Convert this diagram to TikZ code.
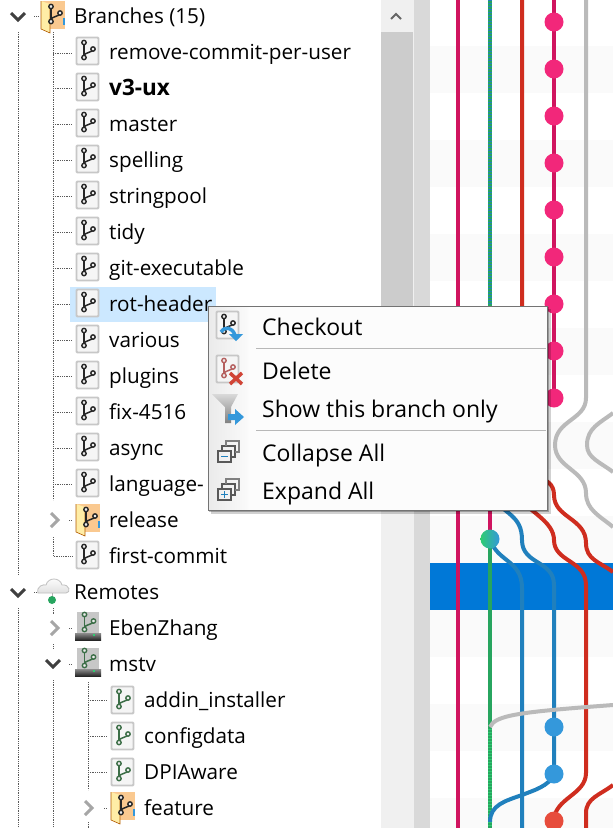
\documentclass[tikz,border=0pt]{standalone}
\usepackage{fontspec}
\setmainfont{Open Sans}
\definecolor{crimsonline}{HTML}{D0145F}
\definecolor{pinkdot}{HTML}{F2277A}
\definecolor{redline}{HTML}{CF2D1F}
\definecolor{reddot}{HTML}{E74C3C}
\definecolor{blueline}{HTML}{2080BD}
\definecolor{bluedot}{HTML}{3498DB}
\definecolor{greenline}{HTML}{27A55F}
\definecolor{greenlight}{HTML}{2ECC71}
\definecolor{grayline}{HTML}{BABABA}
\definecolor{rowstripe}{HTML}{FAFAFA}
\definecolor{rowselected}{HTML}{0078D7}
\definecolor{treeselected}{HTML}{CCE8FF}
\definecolor{glyphgreen}{HTML}{3C6E47}
\definecolor{glyphred}{HTML}{B5605F}
\definecolor{folderback}{HTML}{FAC990}
\definecolor{folderfront}{HTML}{FFEDA6}
\usetikzlibrary{calc}
\tikzset{
	treetext/.style={anchor=base west, inner sep=0pt, yshift=0.4pt, font=\fontsize{20.7}{24}\selectfont},
	menutext/.style={anchor=base west, inner sep=0pt, font=\fontsize{23}{26}\selectfont},
	treeline/.style={densely dotted, line width=0.8pt, color=black!65},
	edgeline/.style={line width=4pt},
	commitdot/.style={fill=pinkdot},
}
\def\branchglyph(#1,#2)[#3]{\begin{scope}[shift={(#1,#2)}]
	\draw[line width=1.5pt, color=#3] (-3.5,-8.5) -- (-3.5,6.5);
	\draw[line width=1.5pt, color=#3] (5.5,-2) .. controls (5.5,2) and (-3.5,1) .. (-3.5,5);
	\filldraw[line width=1.4pt, draw=#3, fill=black!8] (-3.5,-8.5) circle (2.2);
	\filldraw[line width=1.4pt, draw=#3, fill=black!8] (-3.5,6.5) circle (2.2);
	\filldraw[line width=1.4pt, draw=#3, fill=black!8] (5.5,-2) circle (2.2);
\end{scope}}
\def\branchicon(#1,#2)[#3]{
	\draw[line width=1.8pt, draw=black!22, fill=black!4, rounded corners=1pt] ($(#1,#2)+(-11,-13.5)$) rectangle ($(#1,#2)+(11,13.5)$);
	\branchglyph(#1,#2)[#3]
}
\def\foldericon(#1,#2){\begin{scope}[shift={(#1,#2)}]
	\fill[color=folderback] (-12,-15) -- (12,-15) -- (12,13) -- (-12,13) -- cycle;
	\fill[color=folderfront] (-12,-15) -- (-3,-12) -- (-3,17) -- (-12,13) -- cycle;
	\draw[line width=0.6pt, color=orange!70!black] (-3,-12) -- (-3,17) -- (-12,13) -- (-12,-15);
	\fill[color=bluedot] (9.5,2) rectangle (11.5,9);
\end{scope}\branchglyph(#1+1.5,#2-1)[black!85]}
\def\servericon(#1,#2){\begin{scope}[shift={(#1,#2)}]
	\fill[color=black!22] (-11,-15) rectangle (11,8);
	\shade[top color=black!45, bottom color=black!85] (-13,6) rectangle (13,13);
	\fill[color=greenlight] (5,7) rectangle (7,9);
\end{scope}\branchglyph(#1,#2-4)[glyphgreen]}
\def\chevrondown(#1,#2){\draw[line width=3pt, color=black!75] ($(#1,#2)+(-7,-4)$) -- ($(#1,#2)+(0,3)$) -- ($(#1,#2)+(7,-4)$);}
\def\chevronright(#1,#2){\draw[line width=3pt, color=black!35] ($(#1,#2)+(-4,-7)$) -- ($(#1,#2)+(3,0)$) -- ($(#1,#2)+(-4,7)$);}
\def\windowsicon(#1,#2){\begin{scope}[shift={(#1,#2)}]
	\draw[line width=1.5pt, color=black!65] (0,11) rectangle (13,22);
	\draw[line width=1.2pt, color=black!65] (4,11) -- (4,6) -- (17,6) -- (17,17) -- (13,17);
	\draw[line width=1.2pt, color=black!50] (8,6) -- (8,1) -- (21,1) -- (21,12) -- (17,12);
\end{scope}}

\begin{document}
\begin{tikzpicture}[x=1pt, y=-1pt]
	%%%%% START %%%%%
	\useasboundingbox (0,0) rectangle (613,828);
	\clip (0,0) rectangle (613,828);
	\fill[color=white] (0,0) rectangle (613,828);

	%%%%% graph rows and scrollbar
	\fill[color=rowstripe] (430,46) rectangle (613,93);
	\fill[color=rowstripe] (430,140) rectangle (613,187);
	\fill[color=rowstripe] (430,234) rectangle (613,281);
	\fill[color=rowstripe] (430,328) rectangle (613,375);
	\fill[color=rowstripe] (430,422) rectangle (613,469);
	\fill[color=rowstripe] (430,516) rectangle (613,563);
	\fill[color=rowselected] (430,563) rectangle (613,610);
	\fill[color=rowstripe] (430,610) rectangle (613,657);
	\fill[color=rowstripe] (430,704) rectangle (613,751);
	\fill[color=rowstripe] (430,798) rectangle (613,828);
	\fill[color=black!6] (381,0) rectangle (414,828);
	\fill[color=black!20] (381,32) rectangle (413,400);
	\fill[color=black!15] (414,0) rectangle (430,828);
	\draw[line width=2pt, color=black!60] (391,19) -- (396,14) -- (401,19);

	%%%%% graph edges
	\draw[edgeline, color=crimsonline] (458,0) -- (458,828);
	\draw[edgeline, color=greenline] (490,0) -- (490,460);
	\draw[edgeline, color=blueline, dash pattern=on 1pt off 2pt] (490,0) -- (490,460);
	\draw[edgeline, color=crimsonline] (490,460) -- (490,539);
	\draw[edgeline, color=greenline] (490,539) -- (490,727);
	\draw[edgeline, color=greenlight] (490,727) -- (490,828);
	\draw[edgeline, color=greenline, dash pattern=on 1.5pt off 1.5pt] (490,727) -- (490,828);
	\draw[edgeline, color=redline] (522,0) -- (522,460) .. controls (522,482) and (554,472) .. (554,495) .. controls (554,518) and (586,518) .. (586,543) .. controls (586,560) and (600,562) .. (613,572);
	\draw[edgeline, color=redline] (522,500) .. controls (530,512) and (554,522) .. (554,540) .. controls (554,562) and (586,560) .. (586,585) -- (586,773) .. controls (586,795) and (554,798) .. (554,821);
	\draw[edgeline, color=redline] (613,785) .. controls (600,795) and (586,798) .. (586,813) -- (586,828);
	\draw[edgeline, color=crimsonline] (554,0) -- (554,398);
	\draw[edgeline, color=grayline] (586,0) -- (586,398) .. controls (586,420) and (555,420) .. (555,445) .. controls (555,468) and (586,470) .. (586,493) .. controls (586,510) and (600,516) .. (613,527);
	\draw[edgeline, color=grayline] (613,413) .. controls (600,423) and (587,428) .. (587,445) .. controls (587,458) and (600,462) .. (613,472);
	\draw[edgeline, color=blueline] (490,495) .. controls (505,515) and (522,515) .. (522,540) .. controls (522,565) and (554,560) .. (554,585) -- (554,774);
	\draw[edgeline, color=blueline] (490,539) .. controls (497,562) and (522,560) .. (522,588) -- (522,828);
	\draw[edgeline, color=grayline] (490,727) .. controls (495,715) and (520,712) .. (613,705);
	\draw[edgeline, color=blueline] (554,774) .. controls (550,786) and (532,791) .. (522,795) .. controls (505,801) and (490,805) .. (490,822);

	%%%%% commits
	\fill[commitdot] (554,22) circle (9.5);
	\fill[commitdot] (554,69) circle (9.5);
	\fill[commitdot] (554,116) circle (9.5);
	\fill[commitdot] (554,163) circle (9.5);
	\fill[commitdot] (554,210) circle (9.5);
	\fill[commitdot] (554,257) circle (9.5);
	\fill[commitdot] (554,304) circle (9.5);
	\fill[commitdot] (554,351) circle (9.5);
	\fill[commitdot] (554,398) circle (9.5);
	\shade[left color=greenlight, right color=bluedot] (490,539) circle (9.5);
	\fill[color=bluedot] (554,727) circle (9.5);
	\fill[color=bluedot] (554,774) circle (9.5);
	\fill[color=reddot] (554,821) circle (9.5);

	%%%%% tree lines
	\draw[treeline] (18,32) -- (18,575);
	\draw[treeline] (18,608) -- (18,828);
	\draw[treeline] (53,32) -- (53,500);
	\draw[treeline] (53,537) -- (53,556) -- (72,556);
	\draw[treeline] (53,608) -- (53,614);
	\draw[treeline] (53,644) -- (53,648);
	\draw[treeline] (53,680) -- (53,828);
	\draw[treeline] (88,682) -- (88,790);
	\draw[treeline] (88,822) -- (88,828);
	\draw[treeline] (34,16) -- (38,16);
	\draw[treeline] (34,592) -- (38,592);
	\draw[treeline] (53,53) -- (72,53);
	\draw[treeline] (53,88) -- (72,88);
	\draw[treeline] (53,124) -- (72,124);
	\draw[treeline] (53,160) -- (72,160);
	\draw[treeline] (53,196) -- (72,196);
	\draw[treeline] (53,232) -- (72,232);
	\draw[treeline] (53,268) -- (72,268);
	\draw[treeline] (53,304) -- (72,304);
	\draw[treeline] (53,340) -- (72,340);
	\draw[treeline] (53,376) -- (72,376);
	\draw[treeline] (53,412) -- (72,412);
	\draw[treeline] (53,448) -- (72,448);
	\draw[treeline] (53,484) -- (72,484);
	\draw[treeline] (69,520) -- (72,520);
	\draw[treeline] (69,628) -- (72,628);
	\draw[treeline] (69,664) -- (72,664);
	\draw[treeline] (88,700) -- (107,700);
	\draw[treeline] (88,736) -- (107,736);
	\draw[treeline] (88,772) -- (107,772);
	\draw[treeline] (104,808) -- (107,808);

	%%%%% tree
	\fill[color=treeselected] (70,287) rectangle (216,322);
	\chevrondown(18,17)
	\chevronright(55,520)
	\chevrondown(18,593)
	\chevronright(55,628)
	\chevrondown(53,664)
	\chevronright(89,808)

	\foldericon(53,16)
	\node[treetext] (branches) at (74,24) {Branches (15)};
	\branchicon(87.5,51)[black!85]
	\node[treetext] (removecommit) at (109,60) {remove-commit-per-user};
	\branchicon(87.5,87)[black!85]
	\node[treetext, font=\fontsize{22.5}{24}\selectfont\bfseries] (vthreeux) at (109,96) {v3-ux};
	\branchicon(87.5,123)[black!85]
	\node[treetext] (master) at (109,132) {master};
	\branchicon(87.5,159)[black!85]
	\node[treetext] (spelling) at (109,168) {spelling};
	\branchicon(87.5,195)[black!85]
	\node[treetext] (stringpool) at (109,204) {stringpool};
	\branchicon(87.5,231)[black!85]
	\node[treetext] (tidy) at (109,240) {tidy};
	\branchicon(87.5,267)[black!85]
	\node[treetext] (gitexecutable) at (109,276) {git-executable};
	\branchicon(87.5,303)[black!85]
	\node[treetext] (rotheader) at (109,312) {rot-header};
	\branchicon(87.5,339)[black!85]
	\node[treetext] (various) at (109,348) {various};
	\branchicon(87.5,375)[black!85]
	\node[treetext] (plugins) at (109,384) {plugins};
	\branchicon(87.5,411)[black!85]
	\node[treetext] (fix) at (109,420) {fix-4516};
	\branchicon(87.5,447)[black!85]
	\node[treetext] (async) at (109,456) {async};
	\branchicon(87.5,483)[black!85]
	\node[treetext] (language) at (109,492) {language-};
	\foldericon(88,519)
	\node[treetext] (release) at (109,528) {release};
	\branchicon(87.5,555)[black!85]
	\node[treetext] (firstcommit) at (109,564) {first-commit};

	\shade[top color=white, bottom color=black!12] (38,593) .. controls (36,586) and (44,584) .. (46,585) .. controls (48,577) and (60,577) .. (62,585) .. controls (70,584) and (71,593) .. (66,593) -- cycle;
	\draw[line width=0.8pt, color=black!25] (38,593) .. controls (36,586) and (44,584) .. (46,585) .. controls (48,577) and (60,577) .. (62,585) .. controls (70,584) and (71,593) .. (66,593) -- cycle;
	\draw[line width=1pt, color=black!30] (52,593) -- (52,598);
	\fill[color=greenline] (52,600) circle (4);
	\node[treetext] (remotes) at (74,600) {Remotes};
	\servericon(88,627)
	\node[treetext] (ebenzhang) at (109,636) {EbenZhang};
	\servericon(88,663)
	\node[treetext] (mstv) at (109,672) {mstv};
	\branchicon(122.5,700)[glyphgreen]
	\node[treetext] (addin) at (144,708) {addin\_installer};
	\branchicon(122.5,736)[glyphgreen]
	\node[treetext] (configdata) at (144,744) {configdata};
	\branchicon(122.5,772)[glyphgreen]
	\node[treetext] (dpiaware) at (144,780) {DPIAware};
	\foldericon(123,807)
	\node[treetext] (feature) at (144,816) {feature};

	%%%%% context menu
	\fill[color=black, opacity=0.18] (211,309) rectangle (551,514);
	\fill[color=black, opacity=0.25] (209,307) rectangle (549,512);
	\filldraw[line width=1pt, draw=black!55, fill=black!1] (208,306) rectangle (547,510);
	\shade[left color=black!8, right color=black!2] (209,307) rectangle (248,509);
	\draw[line width=1pt, color=black!28] (256,348) -- (546,348);
	\draw[line width=1pt, color=black!28] (256,430) -- (546,430);

	\branchicon(227.5,325)[black!85]
	\draw[line width=3.5pt, color=bluedot] (221,332) .. controls (225,326) and (232,327) .. (235,335);
	\fill[color=bluedot] (229,334) -- (243,334) -- (236,341) -- cycle;
	\node[menutext] (checkout) at (262,335) {Checkout};

	\branchicon(227.5,369)[glyphred]
	\draw[line width=3.5pt, color=reddot!90!black] (230,373) -- (242,384);
	\draw[line width=3.5pt, color=reddot!90!black] (242,373) -- (230,384);
	\node[menutext] (delete) at (262,379) {Delete};

	\shade[top color=black!15, bottom color=black!50] (212,394) -- (238,394) -- (231,407) -- (231,423) -- (225,423) -- (225,407) -- cycle;
	\fill[color=bluedot] (228,414) -- (235,414) -- (235,409) -- (244,417) -- (235,425) -- (235,420) -- (228,420) -- cycle;
	\node[menutext] (showbranch) at (262,417) {Show this branch only};

	\windowsicon(218,440)
	\draw[line width=1.2pt, color=blueline] (221,456.5) -- (228,456.5);
	\node[menutext] (collapse) at (262,461) {Collapse All};

	\windowsicon(218,478)
	\draw[line width=1.2pt, color=blueline] (221,494.5) -- (228,494.5);
	\draw[line width=1.2pt, color=blueline] (224.5,491) -- (224.5,498);
	\node[menutext] (expand) at (262,499) {Expand All};
	%%%%% END %%%%%
\end{tikzpicture}
\end{document}
